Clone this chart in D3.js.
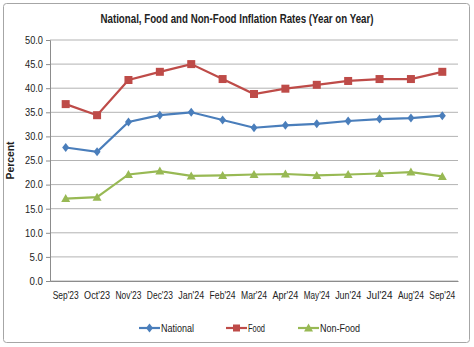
<!DOCTYPE html>
<html>
<head>
<meta charset="utf-8">
<script src="https://cdn.jsdelivr.net/npm/d3@7"></script>
<style>
body{margin:0;background:#fff;}
text{font-family:"Liberation Sans Narrow","Arial Narrow","Liberation Sans",sans-serif;fill:#222;}
</style>
</head>
<body>
<div id="chart"></div>
<script>
// data
const months = ["Sep'23","Oct'23","Nov'23","Dec'23","Jan'24","Feb'24","Mar'24","Apr'24","May'24","Jun'24","Jul'24","Aug'24","Sep'24"]
const national = [27.7,26.8,33.0,34.4,35.0,33.4,31.8,32.3,32.6,33.2,33.6,33.8,34.3]
const food = [36.7,34.4,41.7,43.4,45.0,41.9,38.8,39.9,40.7,41.5,41.9,41.9,43.4]
const nonFood = [17.1,17.4,22.1,22.8,21.8,21.9,22.1,22.2,21.9,22.1,22.3,22.6,21.7]
const yTicks = [0,5,10,15,20,25,30,35,40,45,50]

const series = [
  {name:"National", values:national, color:"#4A7EBB", shape:"diamond"},
  {name:"Food", values:food, color:"#BE4B48", shape:"square"},
  {name:"Non-Food", values:nonFood, color:"#98B954", shape:"triangle"}
]

const width = 474, height = 347
const margin = {top:40, right:16, bottom:66, left:50}

const svg = d3.select("#chart").append("svg")
  .attr("width", width).attr("height", height)

// outer frame
svg.append("rect")
  .attr("x",3.5).attr("y",3.5).attr("width",width-8).attr("height",height-8)
  .attr("rx",3).attr("fill","#fff").attr("stroke","#a6a6a6").attr("stroke-width",1)

// text is squeezed a bit since no narrow font is around
svg.append("text")
  .attr("x",237).attr("y",23)
  .attr("text-anchor","middle")
  .attr("textLength",273).attr("lengthAdjust","spacingAndGlyphs")
  .style("font-size","12.5px").style("font-weight","bold")
  .text("National, Food and Non-Food Inflation Rates (Year on Year)")

const x = d3.scaleBand().domain(months)
  .range([margin.left, width-margin.right])
const y = d3.scaleLinear().domain([0,50])
  .range([height-margin.bottom, margin.top])

const g = svg.append("g")

// gridlines
g.selectAll("line.grid").data(yTicks).join("line")
  .attr("class","grid")
  .attr("x1",margin.left).attr("x2",width-margin.right)
  .attr("y1",d=>y(d)).attr("y2",d=>y(d))
  .attr("stroke","#b3b3b3").attr("stroke-width",1)

// y axis
const yAxis = g.append("g")
  .attr("transform",`translate(${margin.left},0)`)
  .call(d3.axisLeft(y).tickValues(yTicks).tickFormat(d3.format(".1f")).tickSize(4))
yAxis.select(".domain").attr("stroke","#8c8c8c")
yAxis.selectAll(".tick line").attr("stroke","#8c8c8c")
yAxis.selectAll(".tick text").style("font-size","10.5px").attr("x",-7)
  .attr("textLength",d=>d>=10?18:13.5).attr("lengthAdjust","spacingAndGlyphs")

// x axis
const xAxis = g.append("g")
  .attr("transform",`translate(0,${y(0)})`)
  .call(d3.axisBottom(x).tickSize(0))
xAxis.select(".domain").attr("stroke","#8c8c8c")
xAxis.selectAll(".tick text").style("font-size","10.5px").attr("dy","1.45em")
  .attr("textLength",26).attr("lengthAdjust","spacingAndGlyphs")

svg.append("text")
  .attr("transform","translate(14,"+((margin.top+height-margin.bottom)/2)+") rotate(-90)")
  .attr("text-anchor","middle")
  .attr("textLength",38).attr("lengthAdjust","spacingAndGlyphs")
  .style("font-size","11.5px").style("font-weight","bold")
  .text("Percent")

function marker(sel, shape, color, size){
  if(shape=="square"){
    sel.append("rect").attr("x",-size).attr("y",-size)
      .attr("width",size*2).attr("height",size*2).attr("fill",color)
  } else if(shape=="diamond"){
    sel.append("path").attr("d",`M0,${-size-1}L${size},0L0,${size+1}L${-size},0Z`).attr("fill",color)
  } else {
    sel.append("path").attr("d",`M0,${-size-1}L${size+1},${size}L${-size-1},${size}Z`).attr("fill",color)
  }
}

const line = d3.line()
  .x((d,i)=>x(months[i])+x.bandwidth()/2)
  .y(d=>y(d))

series.forEach(s=>{
  g.append("path").datum(s.values)
    .attr("d",line).attr("fill","none")
    .attr("stroke",s.color).attr("stroke-width",2.2)
  g.selectAll(null).data(s.values).join("g")
    .attr("transform",(d,i)=>`translate(${x(months[i])+x.bandwidth()/2},${y(d)})`)
    .each(function(){ marker(d3.select(this), s.shape, s.color, s.shape=="square"?4:3.5) })
})

// legend
const legX = [139,226,298]
const legW = [33,17,40]
series.forEach((s,i)=>{
  const lg = svg.append("g").attr("transform",`translate(${legX[i]},328)`)
  lg.append("line").attr("x1",0).attr("x2",21).attr("stroke",s.color).attr("stroke-width",2.2)
  lg.append("g").attr("transform","translate(10.5,0)").call(sel=>marker(sel,s.shape,s.color,3.5))
  lg.append("text").attr("x",22).attr("dy","0.35em").style("font-size","10.5px")
    .attr("textLength",legW[i]).attr("lengthAdjust","spacingAndGlyphs").text(s.name)
})
</script>
</body>
</html>
